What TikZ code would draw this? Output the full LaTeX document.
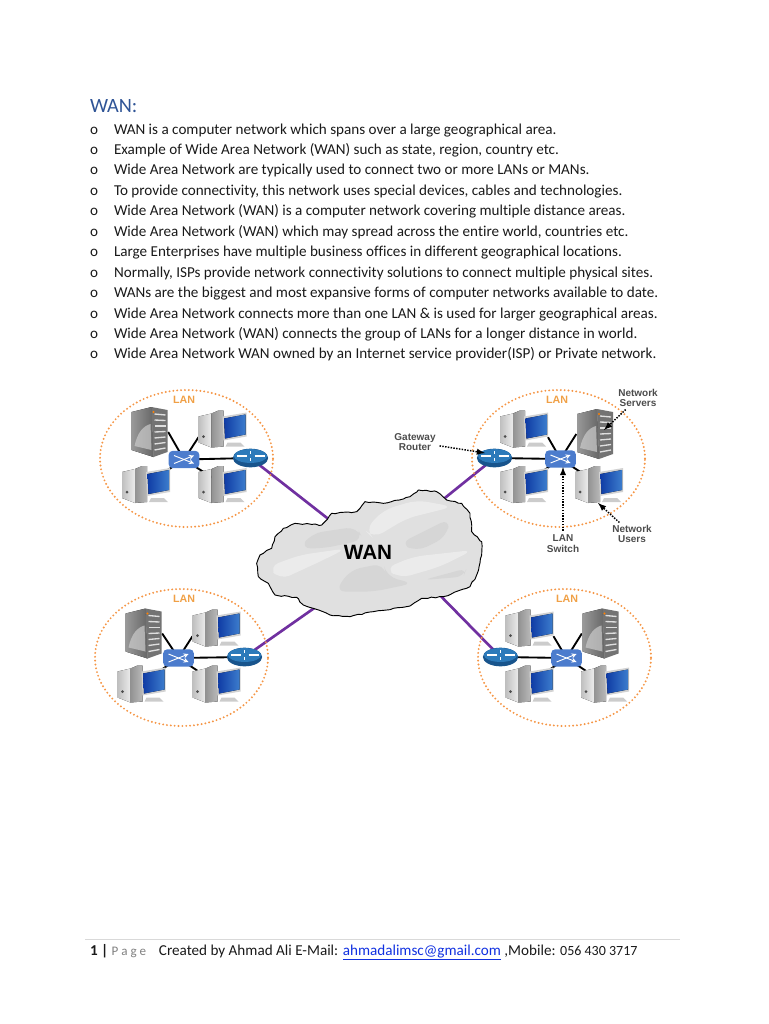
\documentclass[tikz,border=0pt]{standalone}
\usepackage{fontspec}
\setmainfont{Carlito}[Ligatures=CommonOff]
\newfontfamily\labelfont{Liberation Sans}
\usetikzlibrary{shapes.geometric}
\usetikzlibrary{backgrounds}
\usetikzlibrary{decorations.pathmorphing}
\definecolor{headblue}{RGB}{47,84,150}
\definecolor{ringorange}{RGB}{245,150,70}
\definecolor{lanorange}{RGB}{240,160,70}
\definecolor{linkpurple}{RGB}{112,48,160}
\definecolor{mailblue}{RGB}{16,48,224}
\definecolor{screenblue}{RGB}{16,60,165}
\definecolor{screenlight}{RGB}{60,125,205}
\definecolor{swblue}{RGB}{76,124,205}
\definecolor{rtdark}{RGB}{24,84,140}
\definecolor{rtblue}{RGB}{44,122,186}
\newcommand{\pcdraw}[1]{
    \begin{scope}[shift={(path picture bounding box.center)}, xscale=#1]
        \fill[left color=gray!50, right color=gray!15] (-24,-12) -- (-11,-15) -- (-11,19) -- (-24,14) -- cycle;
        \fill[left color=gray!85, right color=gray!55] (-11,-15) -- (-4,-18) -- (1,-18) -- (1,18) -- (-11,19) -- cycle;
        \fill[black!70] (-19,8) circle (1.5);
        \fill[gray!40] (5,14) -- (18,14) -- (22,18) -- (3,18) -- cycle;
        \fill[gray!35] (0,-12) -- (24,-16) -- (24,8) -- (1,12) -- cycle;
        \fill[left color=screenblue, right color=screenlight] (1.5,-10) -- (23,-14) -- (23,6) -- (2.5,10) -- cycle;
    \end{scope}
}
\newcommand{\srvdraw}[1]{
    \begin{scope}[shift={(path picture bounding box.center)}, xscale=#1]
        \fill[left color=gray!80, right color=black!60] (-18,-20) -- (2,-25) -- (4,25) -- (-18,18) -- cycle;
        \fill[gray!40, opacity=.7] (-15,14) .. controls (-12,0) and (-6,-6) .. (1,-8) -- (2,18) -- cycle;
        \fill[black!55] (2,-25) -- (18,-22) -- (18,20) -- (4,25) -- cycle;
        \foreach \k in {0,...,6}
            \draw[gray!25, line width=1pt] (5,-18+6*\k) -- (16,-17+5.5*\k);
        \fill[orange] (4,-20) circle (1.2);
    \end{scope}
}
\tikzset{
    common/.style={inner sep=0pt, outer sep=0pt},
    lanring/.style={common, ellipse, draw=ringorange, line width=1.6pt, line cap=round, dash pattern=on 0pt off 2.9pt, minimum width=129.75pt, minimum height=102.75pt},
    lanlabel/.style={font=\labelfont\bfseries\fontsize{8}{8}\selectfont, text=lanorange},
    pcbox/.style={common, minimum width=36pt, minimum height=28.5pt, path picture={\pcdraw{#1}}},
    srvbox/.style={common, minimum width=28pt, minimum height=38pt, path picture={\srvdraw{#1}}},
    swbox/.style={common, rectangle, rounded corners=3pt, fill=swblue, minimum width=23pt, minimum height=13pt,
        path picture={
            \draw[white, line width=.7pt, ->, >=stealth] ([shift={(-10,-4)}]path picture bounding box.center) -- ([shift={(10,4)}]path picture bounding box.center);
            \draw[white, line width=.7pt, ->, >=stealth] ([shift={(-10,4)}]path picture bounding box.center) -- ([shift={(10,-4)}]path picture bounding box.center);
        }},
    rtbox/.style={common, ellipse, fill=rtdark, minimum width=26.5pt, minimum height=14pt,
        path picture={
            \fill[rtblue] ([yshift=1.5pt]path picture bounding box.center) ellipse (12.5pt and 5.2pt);
            \draw[white, line width=.8pt] ([shift={(-14,-2)}]path picture bounding box.center) -- ([shift={(-4,-2)}]path picture bounding box.center);
            \draw[white, line width=.8pt] ([shift={(4,-2)}]path picture bounding box.center) -- ([shift={(14,-2)}]path picture bounding box.center);
            \draw[white, line width=.8pt] ([shift={(0,-7)}]path picture bounding box.center) -- ([shift={(0,-4)}]path picture bounding box.center);
            \draw[white, line width=.8pt] ([shift={(0,0)}]path picture bounding box.center) -- ([shift={(0,3)}]path picture bounding box.center);
        }},
    wire/.style={black, line width=1.4pt},
    wanlink/.style={linkpurple, line width=2pt},
    note/.style={common, font=\labelfont\bfseries\fontsize{7.5}{7.7}\selectfont, text=black!70, align=center},
    notearrow/.style={black, line width=1.1pt, densely dotted, -latex, shorten <=3pt},
    bodyline/.style={common, anchor=base west, font=\fontsize{11.35}{13}\selectfont, text=black!90},
}
\begin{document}
\begin{tikzpicture}[x=.75pt,y=-.75pt]
    \path[use as bounding box] (0,0) rectangle (768,1024);

    % heading and list
    \node[bodyline, font=\fontsize{15.2}{16}\selectfont, text=headblue] (title) at (90,113) {WAN:};
    \foreach \txt [count=\i from 0] in {
        {WAN is a computer network which spans over a large geographical area.},
        {Example of Wide Area Network (WAN) such as state, region, country etc.},
        {Wide Area Network are typically used to connect two or more LANs or MANs.},
        {To provide connectivity, this network uses special devices, cables and technologies.},
        {Wide Area Network (WAN) is a computer network covering multiple distance areas.},
        {Wide Area Network (WAN) which may spread across the entire world, countries etc.},
        {Large Enterprises have multiple business offices in different geographical locations.},
        {Normally, ISPs provide network connectivity solutions to connect multiple physical sites.},
        {WANs are the biggest and most expansive forms of computer networks available to date.},
        {Wide Area Network connects more than one LAN \& is used for larger geographical areas.},
        {Wide Area Network (WAN) connects the group of LANs for a longer distance in world.},
        {Wide Area Network WAN owned by an Internet service provider(ISP) or Private network.}}
    {
        \node[bodyline] (bullet\i) at (90,134+20.45*\i) {o};
        \node[bodyline] (line\i) at (114,134+20.45*\i) {\txt};
    }

    % LAN rings
    \node[lanring] (ringA) at (186.5,458.5) {};
    \node[lanring] (ringB) at (558.5,458.5) {};
    \node[lanring] (ringC) at (181.5,657.5) {};
    \node[lanring] (ringD) at (564.5,657.5) {};
    \node[lanlabel] (lblA) at (184,400) {LAN};
    \node[lanlabel] (lblB) at (557,400) {LAN};
    \node[lanlabel] (lblC) at (184,599) {LAN};
    \node[lanlabel] (lblD) at (567,599) {LAN};

    % top left
    \node[srvbox=1] (srvA) at (149.5,432) {};
    \node[pcbox=1] (pcAa) at (222.5,428.5) {};
    \node[pcbox=-1] (pcAb) at (146,484) {};
    \node[pcbox=1] (pcAc) at (222.5,484) {};
    \node[swbox] (swA) at (184,459.5) {};
    \node[rtbox] (rtA) at (250.5,458) {};
    % top right
    \node[srvbox=-1] (srvB) at (595,434) {};
    \node[pcbox=-1] (pcBa) at (524,428.5) {};
    \node[pcbox=-1] (pcBb) at (524,484) {};
    \node[pcbox=1] (pcBc) at (599,484) {};
    \node[swbox] (swB) at (560.5,459) {};
    \node[rtbox] (rtB) at (494.5,458) {};
    % bottom left
    \node[srvbox=1] (srvC) at (143.5,633.5) {};
    \node[pcbox=1] (pcCa) at (216.5,627.5) {};
    \node[pcbox=-1] (pcCb) at (141.5,683.5) {};
    \node[pcbox=1] (pcCc) at (216.5,683.5) {};
    \node[swbox] (swC) at (178.5,658) {};
    \node[rtbox] (rtC) at (244.5,657) {};
    % bottom right
    \node[srvbox=-1] (srvD) at (600.5,633.5) {};
    \node[pcbox=-1] (pcDa) at (529.5,627.5) {};
    \node[pcbox=-1] (pcDb) at (529.5,683.5) {};
    \node[pcbox=1] (pcDc) at (605,683.5) {};
    \node[swbox] (swD) at (566.5,658) {};
    \node[rtbox] (rtD) at (500.5,657) {};

    % links into the cloud
    \coordinate (cloudA) at (345,532);
    \coordinate (cloudB) at (420,518);
    \coordinate (cloudC) at (340,590);
    \coordinate (cloudD) at (425,580);

    \begin{scope}[on background layer]
        \foreach \lan/\srvside/\pcside in {A/east/200,B/west/-20,C/east/200,D/west/-20} {
            \draw[wire] (srv\lan.\srvside) -- (sw\lan.center);
            \draw[wire] (pc\lan a.\pcside) -- (sw\lan.center);
            \draw[wire] (pc\lan b.center) -- (sw\lan.center);
            \draw[wire] (pc\lan c.center) -- (sw\lan.center);
            \draw[wire] (sw\lan.center) -- (rt\lan.center);
            \draw[wanlink] (rt\lan.center) -- (cloud\lan);
        }
    \end{scope}

    % cloud, traced
    \begin{scope}[shift={(240,480)}, x=.25pt, y=-.25pt]
        \draw[fill=black!12, line width=.7pt, decorate, decoration={random steps, segment length=3pt, amplitude=.5pt}]
            (50,250) -- (60,225) -- (95,205) -- (105,170) -- (130,145) -- (165,130) -- (245,135)
            -- (275,100) -- (350,95) -- (375,65) -- (430,70) -- (510,50) -- (535,30) -- (590,35)
            -- (620,60) -- (665,70) -- (690,100) -- (695,155) -- (725,185) -- (725,225) -- (710,285)
            -- (690,320) -- (610,350) -- (545,355) -- (510,378) -- (400,395) -- (330,410) -- (270,405)
            -- (220,385) -- (190,375) -- (170,352) -- (105,345) -- (85,310) -- (55,290) -- cycle;
        \fill[black!16, rounded corners=8pt] (180,205) -- (215,160) -- (350,140) -- (370,180) -- (250,205) -- cycle;
        \fill[black!16, rounded corners=8pt] (480,190) -- (630,115) -- (620,170) -- (530,215) -- cycle;
        \fill[black!16, rounded corners=8pt] (285,335) -- (330,270) -- (430,250) -- (440,290) -- (520,310) -- (400,335) -- cycle;
        \fill[black!16, rounded corners=6pt] (550,300) -- (680,265) -- (670,290) -- cycle;
        \fill[black!8, rounded corners=8pt] (85,260) -- (180,225) -- (320,205) -- (250,240) -- (120,300) -- cycle;
        \fill[black!8, rounded corners=8pt] (375,150) -- (430,90) -- (530,60) -- (640,80) -- (500,115) -- (400,175) -- cycle;
        \fill[black!8, rounded corners=8pt] (435,265) -- (520,230) -- (700,210) -- (600,260) -- (480,295) -- cycle;
    \end{scope}
    \node[common, font=\labelfont\bfseries\fontsize{15.5}{16}\selectfont] (wan) at (368,552) {WAN};

    % notes on the top right LAN
    \node[note] (noteSrv) at (638,398) {Network\\Servers};
    \node[note] (noteGw) at (415,442) {Gateway\\Router};
    \node[note] (noteSw) at (563,543.5) {LAN\\Switch};
    \node[note] (noteUsr) at (632,534) {Network\\Users};
    \coordinate (tipSrv) at (604,430);
    \coordinate (tipGw) at (485,453);
    \coordinate (tipSw) at (563,467);
    \coordinate (tipUsr) at (598,503);
    \draw[notearrow] (noteSrv) -- (tipSrv);
    \draw[notearrow] (noteGw) -- (tipGw);
    \draw[notearrow] (noteSw) -- (tipSw);
    \draw[notearrow] (noteUsr) -- (tipUsr);

    % footer
    \draw[black!15, line width=.6pt] (85,939) -- (680,939);
    \node[bodyline] (footer) at (90,955) {\textbf{1 |} \textcolor{gray}{\fontsize{9.8}{12}\selectfont P a g e}\hspace{7pt} Created by Ahmad Ali E-Mail: \textcolor{mailblue}{\underline{ahmadalimsc@gmail.com}} ,Mobile: {\fontsize{10.5}{13}\selectfont 056 430 3717}};
\end{tikzpicture}
\end{document}
